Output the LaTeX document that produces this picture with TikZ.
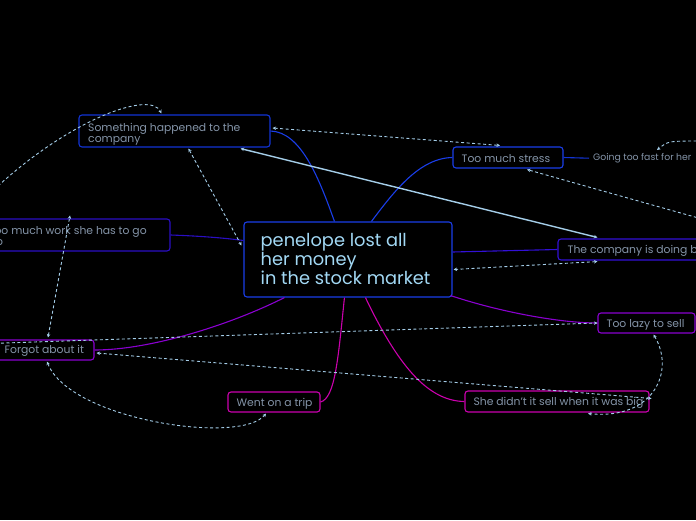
\documentclass[tikz,border=0pt]{standalone}
\usepackage{fontspec}
\setmainfont{Poppins}
\usetikzlibrary{arrows.meta,calc}
\definecolor{txt}{HTML}{8494A8}
\definecolor{ctxt}{HTML}{A2D8F4}
\definecolor{dsh}{HTML}{A4CDE8}
\definecolor{cblue}{HTML}{1A3EE8}
\definecolor{cblue2}{HTML}{1234D4}
\definecolor{cindigo}{HTML}{3210D6}
\definecolor{cindigo2}{HTML}{2A0EC4}
\definecolor{cpurple}{HTML}{8A00D0}
\definecolor{cmag}{HTML}{CC00AE}
\begin{document}
\begin{tikzpicture}[x=1pt,y=-1pt,
  box/.style={draw, rounded corners=3pt, line width=1.1pt, inner sep=0pt, anchor=center},
  lbl/.style={anchor=base west, inner sep=0pt, text=txt, align=left,
    font=\fontsize{10.8}{11}\selectfont},
  lk/.style={line width=1.1pt},
  dl/.style={draw=dsh, dash pattern=on 3pt off 2.5pt, line width=0.9pt},
  ae/.style={-{Stealth[length=3.5pt,width=3.5pt]}},
  ab/.style={{Stealth[length=3.5pt,width=3.5pt]}-{Stealth[length=3.5pt,width=3.5pt]}}]
\fill[black] (0,0) rectangle (696,520);
\useasboundingbox (0,0) rectangle (696,520);
\clip (0,0) rectangle (696,520);

% boxes
\node[box, draw=cblue, minimum width=208pt, minimum height=75pt] (central) at (348,259.5) {};
\node[box, draw=cblue2, minimum width=191pt, minimum height=32pt] (something) at (174.5,131) {};
\node[box, draw=cblue, minimum width=110pt, minimum height=21pt] (stress) at (508,157.5) {};
\node[box, draw=cindigo, minimum width=182pt, minimum height=21pt] (company) at (649,249.5) {};
\node[box, draw=cindigo2, minimum width=192pt, minimum height=32pt] (muchwork) at (74,235) {};
\node[box, draw=cpurple, minimum width=98pt, minimum height=20pt] (forgot) at (45,350) {};
\node[box, draw=cmag, minimum width=92pt, minimum height=20pt] (trip) at (274,402) {};
\node[box, draw=cpurple, minimum width=97pt, minimum height=20pt] (lazy) at (646.5,323) {};
\node[box, draw=cmag, minimum width=184pt, minimum height=21pt] (she) at (557,401.5) {};

% texts (base = baseline of the last line)
\node[lbl, text=ctxt, font=\fontsize{17.8}{19}\selectfont] (centralT) at (260.5,284.5)
  {penelope lost all\\her money\\in the stock market};
\node[lbl] (somethingT) at (88,142) {Something happened to the\\company};
\node[lbl] (stressT) at (461.5,162.3) {Too much stress};
\node[lbl, font=\fontsize{9.3}{11}\selectfont] (going) at (593,160.7) {Going too fast for her};
\node[lbl] (companyT) at (567.5,253.3) {The company is doing bad};
\node[lbl] (muchworkT) at (-11.5,245) {Too much work she has to go\\do};
\node[lbl] (forgotT) at (4.5,353.3) {Forgot about it};
\node[lbl] (tripT) at (236.5,406) {Went on a trip};
\node[lbl] (lazyT) at (606.5,327.3) {Too lazy to sell};
\node[lbl] (sheT) at (473.3,405) {She didn't it sell when it was big};

% free ends
\coordinate (offR1) at (702,219);
\coordinate (offR2) at (702,141);
\coordinate (offL1) at (-2,186);
\coordinate (offL2) at (-10,343.5);

% solid connectors from the central topic
\draw[lk, cblue] ($(central.north west)+(91,0)$) .. controls (318,175) and (300,132) .. (something.east);
\draw[lk, cblue] ($(central.north west)+(128,0)$) .. controls (395,190) and (420,158) .. (stress.west);
\draw[lk, cblue2] (stress.east) -- ($(going.base west)+(-4,-2.5)$);
\draw[lk, cindigo] ($(central.east)+(0,-7.5)$) -- (company.west);
\draw[lk, cindigo2] (muchwork.east) .. controls (200,236) and (225,238) .. ($(central.west)+(0,-19)$);
\draw[lk, cpurple] ($(central.south west)+(41,0)$) .. controls (230,325) and (150,350) .. (forgot.east);
\draw[lk, cmag] ($(central.south west)+(101,0)$) .. controls (338,360) and (335,398) .. (trip.east);
\draw[lk, cmag] ($(central.south west)+(122,0)$) .. controls (400,370) and (430,401) .. (she.west);
\draw[lk, cpurple] ($(central.south east)+(-2,-2)$) .. controls (500,312) and (560,323) .. (lazy.west);

% relationships
\draw[dl, ab] ($(something.south west)+(110,1)$) -- ($(central.west)+(-2,-14)$);
\draw[dl, ab] ($(something.east)+(2,-3)$) -- ($(stress.north)+(-8,-1)$);
\draw[dsh, line width=1.4pt, ab] ($(something.south east)+(-30,1)$) -- ($(company.north west)+(40,-1)$);
\draw[dl, ae] (offR1) -- ($(stress.south)+(19,1)$);
\draw[dl, ae] (offR2) .. controls (668,141) .. (657,150);
\draw[dl, ae] (offL1) .. controls (70,120) and (150,90) .. ($(something.north west)+(83,-1)$);
\draw[dl, ab] ($(company.south west)+(40,1)$) -- ($(central.east)+(1,10)$);
\draw[dl, ab] ($(forgot.north)+(3,-2)$) -- ($(muchwork.north)+(-4,-3)$);
\draw[dl, ae] (offL2) -- (lazy.west);
\draw[dl, ab] ($(she.east)+(2,-3)$) -- ($(forgot.east)+(2,3)$);
\draw[dl, ab] ($(lazy.south)+(7,1)$) .. controls (675,370) and (655,420) .. ($(she.south)+(31,1)$);
\draw[dl, ab] ($(forgot.south)+(2,1)$) .. controls (70,420) and (240,445) .. ($(trip.south)+(-8,1)$);
\end{tikzpicture}
\end{document}
